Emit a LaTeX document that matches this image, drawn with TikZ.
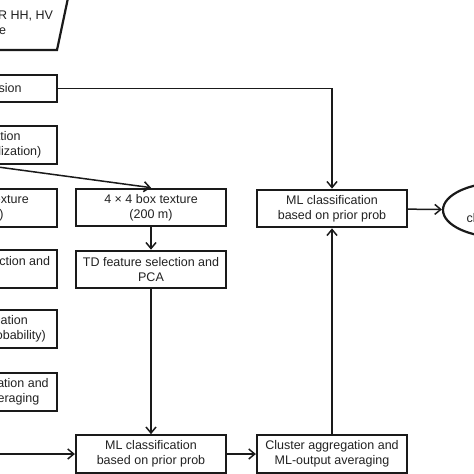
\documentclass[tikz,border=0pt]{standalone}
\usepackage{fontspec}
\setmainfont{Liberation Sans}
\usetikzlibrary{arrows.meta,shapes.geometric}
\definecolor{ink}{HTML}{1A1A1A}
\definecolor{txt}{HTML}{222222}
\tikzset{
  procbox/.style={draw=ink, line width=2.2pt, minimum width=150pt, align=center,
    inner sep=0pt, text=txt, font=\fontsize{12.5}{15.3}\selectfont},
  onebox/.style={procbox, minimum height=27pt},
  twobox/.style={procbox, minimum height=37.5pt},
  conn/.style={draw=ink, line width=1.5pt},
  arr/.style={conn, -{Straight Barb[length=6pt,width=10pt,line width=1.5pt]}},
  termshape/.style={draw=ink, line width=2.2pt, ellipse, minimum width=118pt,
    minimum height=55pt, inner sep=0pt, align=center, text=txt,
    font=\fontsize{12.5}{15.3}\selectfont}
}
\begin{document}
\begin{tikzpicture}[x=1pt,y=-1pt]
\useasboundingbox (0,0) rectangle (474,474);
\clip (0,0) rectangle (474,474);
\fill[white] (0,0) rectangle (474,474);
% input parallelogram
\draw[ink, line width=2.2pt] (-93,-2) -- (68,-2) -- (57,50) -- (-104,50) -- cycle;
\node[text=txt, align=center, font=\fontsize{12.5}{15.3}\selectfont] (inp) at (-11,24) {RS2 ScanSAR HH, HV\\image};
% left column
\node[onebox] (db) at (-18,88.5) {dB conversion};
\node[twobox] (seg) at (-18,145) {Segmentation\\(random initialization)};
\node[twobox] (texa) at (-18,208) {2 × 2 box texture\\(100 m)};
\node[twobox] (tda) at (-18,269) {TD feature selection and\\PCA};
\node[twobox] (mla) at (-18,329) {ML classification\\(equal prior probability)};
\node[twobox] (cla) at (-18,392) {Cluster aggregation and\\ML-output averaging};
% middle column
\node[twobox] (texb) at (151,207.5) {4 × 4 box texture\\(200 m)};
\node[twobox] (tdb) at (151,269.5) {TD feature selection and\\PCA};
\node[twobox] (mlb) at (151,454) {ML classification\\based on prior prob};
% right column
\node[twobox] (mlc) at (332,208.5) {ML classification\\based on prior prob};
\node[twobox] (clc) at (332,454) {Cluster aggregation and\\ML-output averaging};
\node[termshape] (fin) at (502,210) {Final\\classification};
% connectors
\draw[arr] (seg.south) -- (texb.north);
\draw[arr] (db.east) -| (mlc.north);
\draw[arr] (texb) -- (tdb);
\draw[arr] (tdb) -- (mlb);
\draw[arr] (cla.south) |- (mlb.west);
\draw[arr] (mlb) -- (clc);
\draw[arr] (clc) -- (mlc);
\draw[arr] (mlc) -- (fin);
\end{tikzpicture}
\end{document}
